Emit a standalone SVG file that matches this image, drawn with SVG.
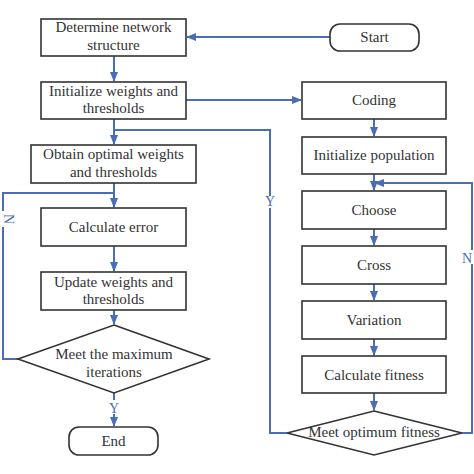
<svg xmlns="http://www.w3.org/2000/svg" width="474" height="474" viewBox="0 0 474 474">
<style>
.box{fill:#fff;stroke:#333;stroke-width:1.6}
text{font-family:'Liberation Serif',serif}
.t{font-size:15px;fill:#333;text-anchor:middle}
.c{fill:none;stroke:#4a6db5;stroke-width:2}
.ca{fill:none;stroke:#4a6db5;stroke-width:2;marker-end:url(#ah)}
.lbl{font-size:14px;fill:#4a6db5;text-anchor:middle}
</style>
<defs>
<marker id="ah" markerWidth="10" markerHeight="8" refX="9" refY="4" orient="auto" markerUnits="userSpaceOnUse">
<path d="M0,0 L10,4 L0,8 Z" fill="#4a6db5"/>
</marker>
</defs>
<rect width="474" height="474" fill="#fff"/>
<g id="connectors" font-family="Liberation Serif, serif">
<path class="ca" d="M330,37 H187"/>
<path class="ca" d="M114,56 V81"/>
<path class="ca" d="M186,100 H301"/>
<path class="ca" d="M114,119 V144"/>
<path class="c" d="M114,130 H270 V196"/>
<path class="c" d="M270,208 V433 H287"/>
<path class="ca" d="M114,183 V207"/>
<path class="c" d="M114,193 H3 V211"/>
<path class="c" d="M3,227 V359 H18"/>
<path class="ca" d="M114,246 V271"/>
<path class="ca" d="M114,310 V324"/>
<path class="c" d="M114,393 V400"/>
<path class="ca" d="M114,414 V426"/>
<path class="ca" d="M374,119 V136"/>
<path class="ca" d="M374,174 V190"/>
<path class="ca" d="M462,433 H472 V183 H375"/>
<path class="ca" d="M374,229 V245"/>
<path class="ca" d="M374,284 V300"/>
<path class="ca" d="M374,339 V355"/>
<path class="ca" d="M374,393 V410"/>
<text class="lbl" x="270" y="206" font-family="Liberation Serif, serif">Y</text>
<text class="lbl" x="114" y="413" font-family="Liberation Serif, serif">Y</text>
<text class="lbl" transform="translate(9,219) rotate(90)" y="5" font-family="Liberation Serif, serif">N</text>
<rect x="462" y="250" width="12" height="14" fill="#fff"/>
<text class="lbl" x="467" y="263" font-family="Liberation Serif, serif">N</text>
</g>
<g id="start" font-family="Liberation Serif, serif"><rect class="box" x="330" y="24" width="89" height="27" rx="10"/><text class="t" x="374.5" y="42">Start</text></g>
<g id="determine" font-family="Liberation Serif, serif"><rect class="box" x="41" y="19" width="145" height="37"/><text class="t" x="113.5" y="32">Determine network</text><text class="t" x="113.5" y="50">structure</text></g>
<g id="init-weights" font-family="Liberation Serif, serif"><rect class="box" x="41" y="82" width="145" height="37"/><text class="t" x="113.5" y="96">Initialize weights and</text><text class="t" x="113.5" y="113">thresholds</text></g>
<g id="obtain" font-family="Liberation Serif, serif"><rect class="box" x="31" y="145" width="165" height="38"/><text class="t" x="113.5" y="159">Obtain optimal weights</text><text class="t" x="113.5" y="177">and thresholds</text></g>
<g id="calc-error" font-family="Liberation Serif, serif"><rect class="box" x="41" y="208" width="145" height="38"/><text class="t" x="113.5" y="232">Calculate error</text></g>
<g id="update" font-family="Liberation Serif, serif"><rect class="box" x="41" y="272" width="145" height="38"/><text class="t" x="113.5" y="287">Update weights and</text><text class="t" x="113.5" y="304">thresholds</text></g>
<g id="max-iter" font-family="Liberation Serif, serif"><path class="box" d="M114,325 L209,359 L114,393 L18,359 Z"/><text class="t" x="114" y="359">Meet the maximum</text><text class="t" x="114" y="377">iterations</text></g>
<g id="end" font-family="Liberation Serif, serif"><rect class="box" x="69" y="427" width="89" height="28" rx="10"/><text class="t" x="113.5" y="446">End</text></g>
<g id="coding" font-family="Liberation Serif, serif"><rect class="box" x="302" y="82" width="144" height="37"/><text class="t" x="374" y="105">Coding</text></g>
<g id="init-pop" font-family="Liberation Serif, serif"><rect class="box" x="302" y="137" width="144" height="37"/><text class="t" x="374" y="160">Initialize population</text></g>
<g id="choose" font-family="Liberation Serif, serif"><rect class="box" x="302" y="191" width="144" height="38"/><text class="t" x="374" y="215">Choose</text></g>
<g id="cross" font-family="Liberation Serif, serif"><rect class="box" x="302" y="246" width="144" height="38"/><text class="t" x="374" y="270">Cross</text></g>
<g id="variation" font-family="Liberation Serif, serif"><rect class="box" x="302" y="301" width="144" height="38"/><text class="t" x="374" y="325">Variation</text></g>
<g id="calc-fitness" font-family="Liberation Serif, serif"><rect class="box" x="302" y="356" width="144" height="37"/><text class="t" x="374" y="380">Calculate fitness</text></g>
<g id="optimum" font-family="Liberation Serif, serif"><path class="box" d="M374,411 L462,433 L374,455 L287,433 Z"/><text class="t" x="374" y="437">Meet optimum fitness</text></g>
</svg>
